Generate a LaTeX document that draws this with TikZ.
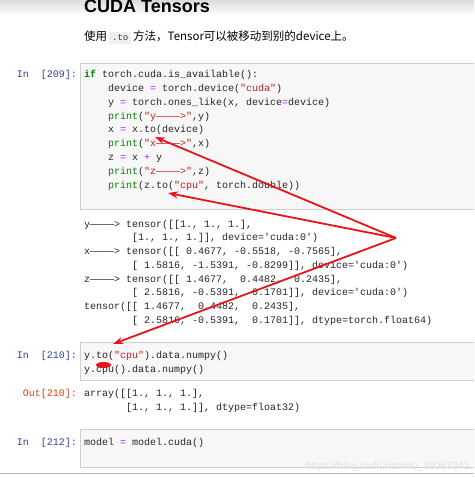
\documentclass[tikz,border=0pt]{standalone}
\usepackage{fontspec}
\usepackage{graphicx}
\setmainfont{Liberation Sans}
\setmonofont{Liberation Mono}
\newfontfamily\cjk{Noto Sans CJK SC}
\usetikzlibrary{arrows.meta,shapes.geometric}
\definecolor{promptin}{HTML}{303F9F}
\definecolor{promptout}{HTML}{D84315}
\definecolor{pykey}{HTML}{008000}
\definecolor{pystr}{HTML}{BA2121}
\definecolor{pyop}{HTML}{AA22FF}
\definecolor{cellbg}{HTML}{F7F7F7}
\definecolor{cellline}{HTML}{CFCFCF}
\definecolor{markred}{HTML}{E8141C}
\newcommand{\pyk}[1]{\textcolor{pykey}{\bfseries #1}}
\newcommand{\pyb}[1]{\textcolor{pykey}{#1}}
\newcommand{\pys}[1]{\textcolor{pystr}{#1}}
\newcommand{\pyo}[1]{\textcolor{pyop}{#1}}
\newcommand{\dd}{\scalebox{2}[1]{——}}
\tikzset{
  cell/.style={draw=cellline, fill=cellbg, line width=0.8pt},
  code/.style={anchor=base west, inner sep=0pt, font=\ttfamily\fontsize{10}{12}\selectfont, text=black!85},
  prompt/.style={anchor=base east, inner sep=0pt, font=\ttfamily\fontsize{10}{12}\selectfont},
  redarrow/.style={draw=markred, line width=1.8pt, -{Stealth[length=10pt,width=7pt]}}
}
\frenchspacing
\begin{document}
\begin{tikzpicture}[x=1pt,y=-1pt]
		\clip (0,0) rectangle (474,478);
		\fill[white] (0,0) rectangle (474,478);
		\shade[top color=black!14, bottom color=white] (0,0) rectangle (474,15);
		
		%%%%% HEADER %%%%%
		\node[anchor=base west, inner sep=0pt, font=\fontsize{18}{20}\selectfont\bfseries] (title) at (84,13) {CUDA Tensors};
		\node[anchor=base west, inner sep=0pt, font=\cjk\fontsize{11.5}{13}\selectfont] (intro) at (84,41)
			{使用\,\colorbox{black!6}{\ttfamily\fontsize{9}{10}\selectfont\color{black!80}.to}\,方法，Tensor可以被移动到别的device上。};
		
		%%%%% CELL 209 %%%%%
		\draw[cell] (80,63) rectangle (480,209);
		\node[prompt, text=promptin] (p209) at (77,77.5) {In~~[209]:};
		\node[code] (c1) at (84,77.5) {\pyk{if} torch.cuda.is\_available():};
		\node[code] (c2) at (108,91.35) {device \pyo{=} torch.device(\pys{"cuda"})};
		\node[code] (c3) at (108,105.2) {y \pyo{=} torch.ones\_like(x, device\pyo{=}device)};
		\node[code] (c4) at (108,119.05) {\pyb{print}(\pys{"y\dd>"},y)};
		\node[code] (c5) at (108,132.9) {x \pyo{=} x.to(device)};
		\node[code] (c6) at (108,146.75) {\pyb{print}(\pys{"x\dd>"},x)};
		\node[code] (c7) at (108,160.6) {z \pyo{=} x \pyo{+} y};
		\node[code] (c8) at (108,174.45) {\pyb{print}(\pys{"z\dd>"},z)};
		\node[code] (c9) at (108,188.3) {\pyb{print}(z.to(\pys{"cpu"}, torch.double))};
		
		\node[code] (o1) at (84,227) {y\dd> tensor([[1., 1., 1.],};
		\node[code] (o2) at (132,240.75) {[1., 1., 1.]], device='cuda:0')};
		\node[code] (o3) at (84,254.5) {x\dd> tensor([[ 0.4677, -0.5518, -0.7565],};
		\node[code] (o4) at (132,268.25) {[ 1.5816, -1.5391, -0.8299]], device='cuda:0')};
		\node[code] (o5) at (84,282) {z\dd> tensor([[ 1.4677,~ 0.4482,~ 0.2435],};
		\node[code] (o6) at (132,295.75) {[ 2.5816, -0.5391,~ 0.1701]], device='cuda:0')};
		\node[code] (o7) at (84,309.5) {tensor([[ 1.4677,~ 0.4482,~ 0.2435],};
		\node[code] (o8) at (132,323.25) {[ 2.5816, -0.5391,~ 0.1701]], dtype=torch.float64)};
		
		%%%%% CELL 210 %%%%%
		\draw[cell] (80,342) rectangle (480,380);
		\node[prompt, text=promptin] (p210) at (77,358.5) {In~~[210]:};
		\node[code] (d1) at (84,358.5) {y.to(\pys{"cpu"}).data.numpy()};
		\node[code] (d2) at (84,372.5) {y.cpu().data.numpy()};
		\node[prompt, text=promptout] (q210) at (77,396.5) {Out[210]:};
		\node[code] (e1) at (84,396.5) {array([[1., 1., 1.],};
		\node[code] (e2) at (126,410.5) {[1., 1., 1.]], dtype=float32)};
		
		%%%%% CELL 212 %%%%%
		\draw[cell] (80,429) rectangle (480,467);
		\node[prompt, text=promptin] (p212) at (77,445.5) {In~~[212]:};
		\node[code] (f1) at (84,445.5) {model \pyo{=} model.cuda()};
		
		\node[anchor=base east, inner sep=0pt, text=black!12, font=\fontsize{10.5}{12}\selectfont] (wm) at (470,469) {https://blog.csdn.net/m0\_38067341};
		\draw[black!25, line width=1pt] (0,473) -- (474,473);
		
		%%%%% ANNOTATION %%%%%
		\coordinate (hub) at (396,238);
		\coordinate (tipx) at (155,137);
		\coordinate (tipz) at (168,193);
		\coordinate (tipy) at (113,344);
		\draw[redarrow] (hub) -- (tipx);
		\draw[redarrow] (hub) -- (tipz);
		\draw[redarrow] (hub) -- (tipy);
		\fill[markred] (103.5,365) ellipse (7.5 and 3);
	\end{tikzpicture}
\end{document}
